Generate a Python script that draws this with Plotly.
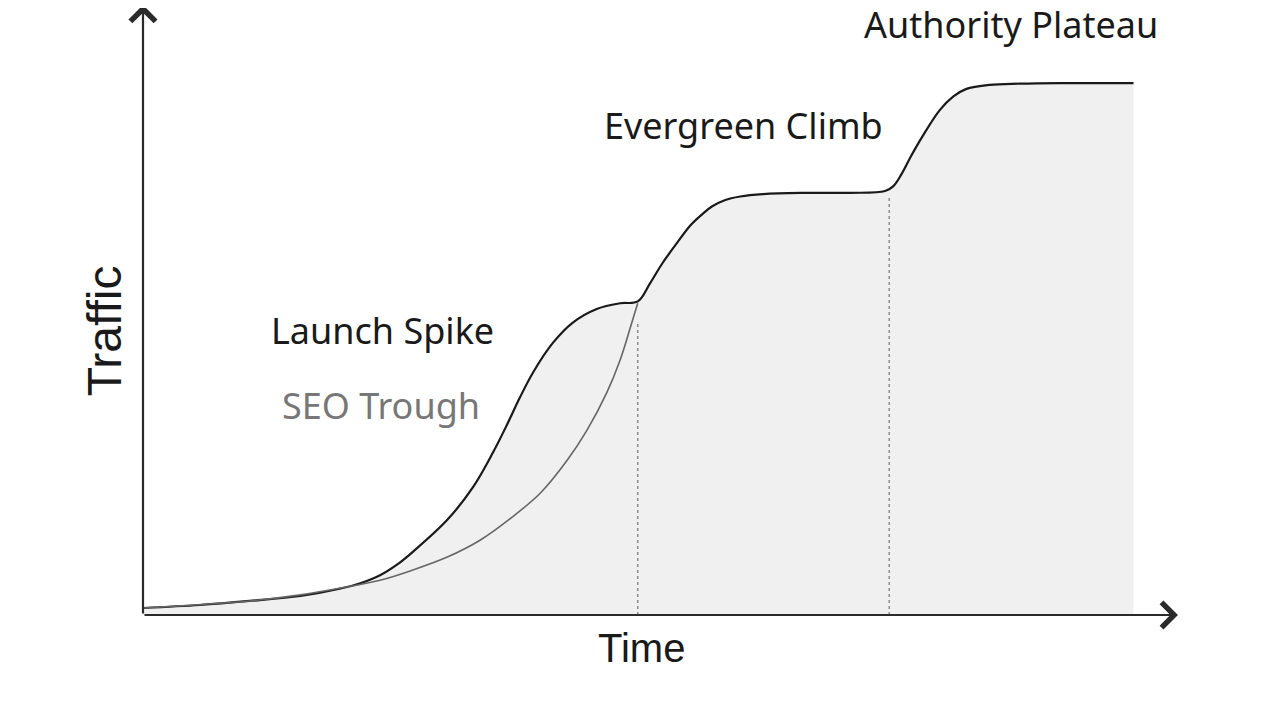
import plotly.graph_objects as go

# main traffic curve (time 0-100, traffic 0-100, arbitrary units)
time_main = [0, 5.5, 10.3, 15.2, 19.0, 21.0, 22.9, 24.5, 26.1, 29.4, 31.9, 33.8,
             35.2, 36.4, 37.7, 39.6, 41.5, 43.9, 46.1, 47.8, 49.0, 50.2, 51.6,
             52.9, 54.1, 55.0, 56.2, 57.7, 59.9, 63.5, 68.3, 71.7, 72.5, 73.3,
             74.2, 75.4, 77.0, 78.3, 79.5, 81.8, 84.7, 88.6, 95.7]
traffic_main = [1.15, 1.64, 2.3, 3.11, 4.3, 5.2, 6.5, 8.2, 10.4, 15.6, 21.0, 26.6,
                31.3, 35.6, 39.8, 44.6, 47.9, 50.2, 51.1, 51.4, 54.4, 57.7, 61.0,
                63.9, 65.8, 67.0, 68.0, 68.6, 69.0, 69.2, 69.2, 69.5, 70.3, 72.3,
                75.2, 78.7, 82.8, 85.0, 86.2, 86.9, 87.1, 87.2, 87.2]

# slower "SEO trough" path that meets the main curve
time_seo = [0, 10.3, 15.2, 19.0, 22.9, 26.1, 29.4, 32.6, 35.7, 38.4, 41.0, 42.9,
            44.8, 46.1, 47.1, 47.8]
traffic_seo = [1.15, 2.3, 3.3, 4.4, 5.7, 7.4, 9.5, 12.3, 16.1, 20.0, 25.4, 30.3,
               36.4, 41.8, 47.2, 51.1]

# dotted phase markers
marker_time = [47.8, 72.1]
marker_top = [48.0, 68.8]

labels = ["Launch Spike", "SEO Trough", "Evergreen Climb", "Authority Plateau"]
label_x = [23.1, 23.0, 58.0, 83.9]
label_y = [46.7, 34.3, 80.2, 96.8]
label_color = ["#1a1a1a", "#777777", "#1a1a1a", "#1a1a1a"]

FONT = "Noto Sans"
AXFONT = "Liberation Sans"

fig = go.Figure()

fig.add_trace(go.Scatter(
    x=time_main, y=traffic_main, mode="lines",
    line=dict(color="#1a1a1a", width=2.2, shape="spline", smoothing=1.0),
    fill="tozeroy", fillcolor="#f0f0f0", hoverinfo="skip",
))
fig.add_trace(go.Scatter(
    x=time_seo, y=traffic_seo, mode="lines",
    line=dict(color="#666666", width=1.6, shape="spline", smoothing=1.0),
    hoverinfo="skip",
))

for t, top in zip(marker_time, marker_top):
    fig.add_shape(type="line", x0=t, x1=t, y0=0, y1=top, xref="x", yref="y",
                  line=dict(color="#888888", width=1.4, dash="dot"), layer="above")

for txt, lx, ly, c in zip(labels, label_x, label_y, label_color):
    fig.add_annotation(x=lx, y=ly, text=txt, showarrow=False,
                       font=dict(family=FONT, size=36, color=c))

# axes drawn as arrows
fig.add_annotation(x=100, y=0, ax=0, ay=0, xref="x", yref="y", axref="x", ayref="y",
                   text="", showarrow=True, arrowhead=4, arrowsize=2.2,
                   arrowwidth=2.2, arrowcolor="#2a2a2a")
fig.add_annotation(x=0, y=100, ax=0, ay=0, xref="x", yref="y", axref="x", ayref="y",
                   text="", showarrow=True, arrowhead=4, arrowsize=2.2,
                   arrowwidth=2.2, arrowcolor="#2a2a2a")

fig.add_annotation(x=0.482, y=-0.094, xref="paper", yref="paper", text="Time",
                   showarrow=False, font=dict(family=AXFONT, size=40, color="#1a1a1a"))
fig.add_annotation(x=-0.064, y=0.468, xref="paper", yref="paper", text="Traffic",
                   textangle=-90, showarrow=False,
                   font=dict(family=AXFONT, size=48, color="#1a1a1a"))

fig.update_xaxes(range=[0, 100], visible=False)
fig.update_yaxes(range=[0, 99.5], visible=False)
fig.update_layout(
    width=1272, height=712,
    margin=dict(l=135, r=102, t=0, b=105),
    paper_bgcolor="white", plot_bgcolor="white",
    showlegend=False,
)

fig.write_html("out.html")
